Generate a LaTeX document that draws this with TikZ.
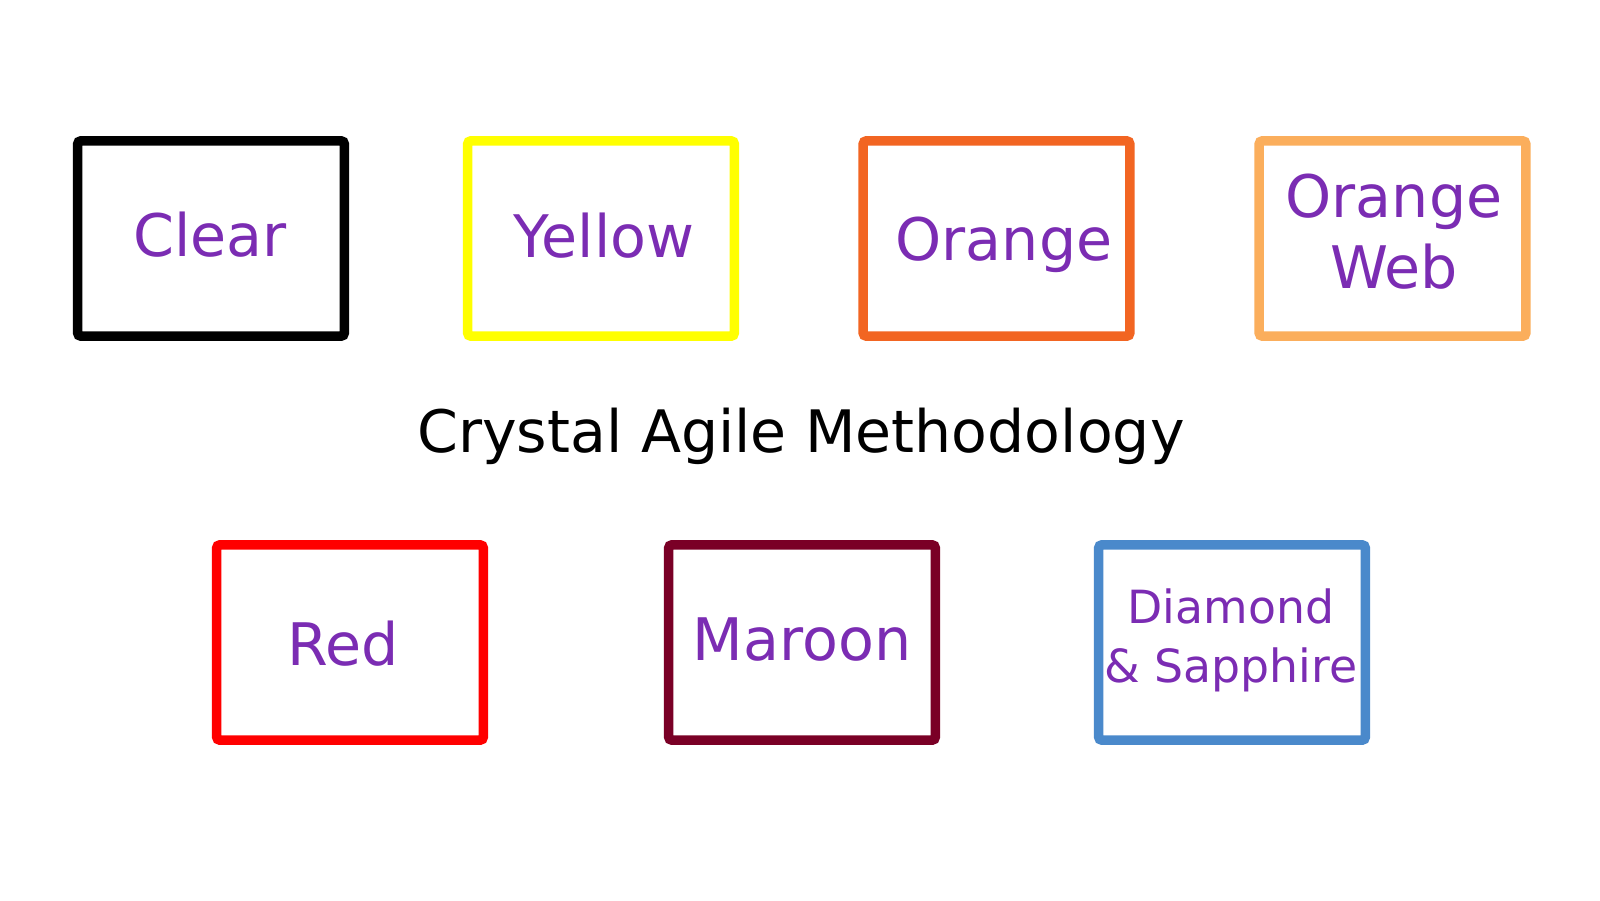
\documentclass[tikz,border=0pt]{standalone}
\usepackage{fontspec}
\setmainfont{DejaVu Sans}
\definecolor{txtpurple}{HTML}{7B2CB3}
\definecolor{cOrange}{HTML}{F26522}
\definecolor{cOrangeWeb}{HTML}{FBAE5C}
\definecolor{cMaroon}{HTML}{7A0026}
\definecolor{cBlue}{HTML}{4A89CB}
\definecolor{cYellow}{HTML}{FFFF00}
\definecolor{cRed}{HTML}{FF0000}
\begin{document}
\begin{tikzpicture}[x=0.75pt,y=-0.75pt,
  crystalbox/.style={draw=#1, line width=7.2pt, rounded corners=2.5pt,
     minimum width=200pt, minimum height=146.5pt, inner sep=0pt},
  boxlabel/.style={text=txtpurple, inner sep=0pt, anchor=base, align=center,
     font=\fontsize{44}{53.25}\selectfont},
  smalllabel/.style={text=txtpurple, inner sep=0pt, anchor=base, align=center,
     font=\fontsize{34.3}{44.25}\selectfont},
  titlelabel/.style={text=black, inner sep=0pt, anchor=base,
     font=\fontsize{43.9}{50}\selectfont}]
\useasboundingbox[fill=white] (0,0) rectangle (1600,900);
% top row
\node[crystalbox=black] (clear) at (211,238.5) {};
\node[crystalbox=cYellow] (yellow) at (601,238.5) {};
\node[crystalbox=cOrange] (orange) at (996.5,238.5) {};
\node[crystalbox=cOrangeWeb] (orangeweb) at (1392.5,238.5) {};
% bottom row
\node[crystalbox=cRed] (red) at (350,642.5) {};
\node[crystalbox=cMaroon] (maroon) at (802,642.5) {};
\node[crystalbox=cBlue] (diamond) at (1232,642.5) {};
% labels
\node[boxlabel] (clearT) at (210,256) {Clear};
\node[boxlabel] (yellowT) at (604,257) {Yellow};
\node[boxlabel] (orangeT) at (1004,260) {Orange};
\node[boxlabel] (orangewebT) at (1394,288) {Orange\\Web};
\node[boxlabel] (redT) at (343,665) {Red};
\node[boxlabel] (maroonT) at (802,660) {Maroon};
\node[smalllabel] (diamondT) at (1231,682) {Diamond\\\& Sapphire};
% title
\node[titlelabel] (title) at (801,452) {Crystal Agile Methodology};
\end{tikzpicture}
\end{document}
